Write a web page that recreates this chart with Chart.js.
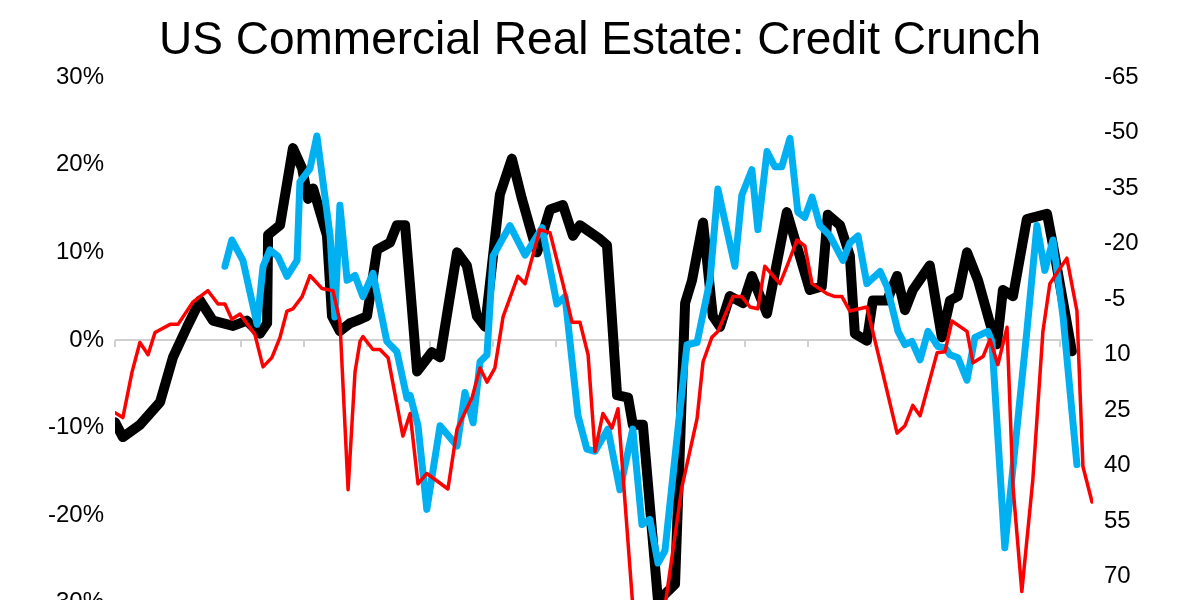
<!DOCTYPE html>
<html>
<head>
<meta charset="utf-8">
<script src="https://cdn.jsdelivr.net/npm/chart.js@4"></script>
<style>
  html, body { margin: 0; padding: 0; background: #fff; overflow: hidden; }
  #wrap { width: 1200px; height: 620px; }
</style>
</head>
<body>
<div id="wrap"><canvas id="chart"></canvas></div>
<script>
// x = years since start of series
const priceT = [0.0,0.25,0.79,1.43,1.84,2.29,2.70,3.11,3.75,4.19,4.60,4.83,4.86,5.24,5.65,5.94,6.13,6.29,6.73,6.89,7.14,7.46,7.68,8.0,8.32,8.73,8.95,9.21,9.59,10.06,10.32,10.86,11.17,11.49,11.75,12.22,12.60,12.92,13.40,13.81,14.22,14.54,14.76,15.40,15.62,15.94,16.29,16.44,16.76,17.24,17.78,18.10,18.32,18.67,18.98,19.21,19.52,19.94,20.22,20.70,21.33,22.06,22.44,22.63,23.02,23.33,23.49,23.87,24.06,24.51,24.83,25.08,25.33,25.87,26.25,26.51,26.76,27.05,27.40,27.78,28.0,28.19,28.51,28.95,29.59,29.78,30.38];
const priceVals = [-9.4,-11.1,-9.7,-7.1,-2.0,1.5,4.5,2.2,1.6,2.2,0.7,1.9,12.0,13.1,21.9,19.6,16.1,17.3,11.9,2.7,1.0,1.9,2.2,2.7,10.3,11.1,13.1,13.1,-3.6,-1.4,-2.0,10.0,8.5,2.7,1.5,16.6,20.7,16.1,10.0,14.9,15.4,11.9,13.1,11.5,10.8,-6.3,-6.6,-9.7,-9.7,-29.8,-27.9,4.2,6.8,13.4,2.7,1.5,5.0,4.2,7.3,3.0,14.6,5.7,6.1,14.3,13.1,9.6,0.7,-0.1,4.5,4.5,7.3,3.4,5.7,8.5,0.3,4.5,5.0,10.0,6.8,1.9,-0.5,5.7,5.0,13.8,14.4,10.8,-1.3];

const blueT = [3.49,3.71,4.06,4.51,4.70,4.92,5.17,5.46,5.78,5.87,6.19,6.41,6.83,6.98,7.14,7.37,7.62,7.87,8.19,8.63,8.95,9.27,9.37,9.62,9.90,10.32,10.86,11.11,11.37,11.59,11.81,12.0,12.54,13.02,13.56,14.03,14.29,14.70,14.98,15.24,15.65,16.03,16.44,16.73,16.98,17.24,17.46,18.16,18.48,18.89,19.14,19.68,19.90,20.22,20.41,20.70,20.95,21.17,21.43,21.68,21.90,22.13,22.38,22.70,23.11,23.33,23.59,23.87,24.29,24.51,24.86,25.08,25.30,25.56,25.81,26.13,26.35,26.51,26.76,27.05,27.30,27.71,27.84,28.25,28.95,29.27,29.52,29.78,30.10,30.54];
const blueVals = [-13.9,-21.0,-15.5,1.8,-13.9,-18.3,-16.6,-11.2,-15.5,-36.7,-40.3,-49.1,-22.1,-0.2,-30.4,-10.1,-11.4,-5.7,-12.0,6.4,9.2,21.8,21.0,29.2,51.8,29.2,34.7,20.2,28.4,11.9,10.0,-16.6,-24.9,-16.9,-24.3,-3.7,-5.7,26.5,35.5,36.1,30.1,46.5,30.1,55.9,54.5,66.3,63.0,7.3,6.7,-10.1,-34.8,-13.9,-33.1,-40.0,-23.8,-44.9,-40.8,-40.8,-48.5,-28.5,-27.1,-32.6,-24.9,-22.1,-15.5,-20.2,-22.1,-9.2,-12.5,-8.4,3.7,7.3,6.4,11.4,3.7,7.8,8.1,10.0,10.8,16.9,5.3,3.7,6.4,62.2,3.7,-24.9,-12.8,-21.0,-0.2,39.7];

const redT = [0.0,0.25,0.54,0.79,1.05,1.27,1.75,2.0,2.48,2.95,3.27,3.49,3.71,3.97,4.44,4.70,4.98,5.24,5.46,5.65,5.94,6.19,6.57,6.92,7.14,7.40,7.62,7.78,7.87,8.19,8.41,8.67,9.14,9.37,9.62,9.90,10.57,10.86,11.33,11.59,11.81,12.06,12.32,12.79,13.02,13.49,13.81,14.22,14.51,14.76,15.02,15.24,15.49,15.78,15.97,16.44,16.73,17.46,18.0,18.48,18.67,18.95,19.14,19.62,19.90,20.16,20.41,20.63,21.11,21.37,21.65,21.90,22.13,22.60,22.86,23.08,23.33,23.87,24.29,24.83,25.08,25.33,25.56,26.10,26.35,26.57,27.05,27.24,27.56,27.78,28.03,28.32,28.51,28.79,29.14,29.46,29.68,30.22,30.54,30.73,31.02];
const redVals = [25.7,27.0,14.7,6.7,10.0,4.0,1.8,1.8,-4.3,-7.3,-3.7,-3.7,0.4,-1.0,4.5,13.3,10.8,5.3,-1.8,-2.4,-5.7,-11.4,-7.9,-7.3,0.9,46.5,14.7,6.4,5.1,8.6,8.6,10.8,32.0,25.9,44.9,42.1,46.3,30.1,21.8,13.6,17.4,13.6,-0.2,-11.2,-9.2,-23.8,-23.0,-9.2,1.2,1.2,10.0,36.1,25.9,29.8,24.6,78,79,78,45.7,27.3,11.9,5.3,3.7,-5.7,-5.7,-2.9,-2.4,-13.9,-9.2,-14.7,-21.0,-19.4,-9.2,-6.5,-5.7,-5.7,-1.8,-2.9,11.9,31.2,29.2,23.7,26.5,9.5,9.2,0.9,3.7,12.2,10.5,5.9,12.7,2.6,45.7,74.0,43.8,3.7,-9.2,-16.1,-1.8,40.2,49.8];

const leftTicks = [-30, -20, -10, 0, 10, 20, 30];
const rightTicks = [-65, -50, -35, -20, -5, 10, 25, 40, 55, 70];

function pts(t, v) {
    return t.map((x, i) => ({ x: x, y: v[i] }));
}

const zeroLine = {
    id: 'zeroLine',
    beforeDatasetsDraw(chart) {
        const ctx = chart.ctx, x = chart.scales.x, y = chart.scales.y;
        const y0 = y.getPixelForValue(0);
        ctx.save();
        ctx.strokeStyle = '#d0d0d0';
        ctx.lineWidth = 2;
        ctx.beginPath();
        ctx.moveTo(chart.chartArea.left, y0);
        ctx.lineTo(chart.chartArea.right, y0);
        for (let t = 0; t <= 31; t += 2) {
            const px = x.getPixelForValue(t);
            ctx.moveTo(px, y0);
            ctx.lineTo(px, y0 + 7);
        }
        ctx.stroke();
        ctx.restore();
    }
};

new Chart('chart', {
    type: 'line',
    data: {
        datasets: [{
            data: pts(redT, redVals),
            borderColor: '#ff0000',
            borderWidth: 3.5,
            yAxisID: 'y2',
            order: 0
        }, {
            data: pts(blueT, blueVals),
            borderColor: '#00b0f0',
            borderWidth: 7,
            yAxisID: 'y2',
            order: 1
        }, {
            data: pts(priceT, priceVals),
            borderColor: '#000000',
            borderWidth: 10,
            yAxisID: 'y',
            order: 2
        }]
    },
    options: {
        responsive: true,
        maintainAspectRatio: false,
        animation: false,
        layout: { padding: { bottom: 15 } },
        elements: {
            point: { radius: 0 },
            line: { tension: 0, borderJoinStyle: 'round', borderCapStyle: 'round' }
        },
        plugins: {
            legend: { display: false },
            tooltip: { enabled: false },
            title: {
                display: true,
                text: 'US Commercial Real Estate: Credit Crunch',
                color: '#000',
                font: { family: 'Liberation Sans, Arial', size: 46, weight: 'normal' },
                padding: { top: 14, bottom: 8 }
            }
        },
        scales: {
            x: {
                type: 'linear',
                min: 0,
                max: 31.05,
                display: false
            },
            y: {
                position: 'left',
                min: -30,
                max: 30,
                afterBuildTicks: s => { s.ticks = leftTicks.map(v => ({ value: v })); },
                afterFit: s => { s.width = 115; },
                grid: { display: false },
                border: { display: false },
                ticks: {
                    color: '#000',
                    padding: 3,
                    font: { family: 'Liberation Sans, Arial', size: 24 },
                    callback: v => v + '%'
                }
            },
            y2: {
                position: 'right',
                reverse: true,
                min: -65,
                max: 77,
                afterBuildTicks: s => { s.ticks = rightTicks.map(v => ({ value: v })); },
                afterFit: s => { s.width = 107; },
                grid: { display: false },
                border: { display: false },
                ticks: {
                    color: '#000',
                    padding: 3,
                    font: { family: 'Liberation Sans, Arial', size: 24 }
                }
            }
        }
    },
    plugins: [zeroLine]
});
</script>
</body>
</html>
